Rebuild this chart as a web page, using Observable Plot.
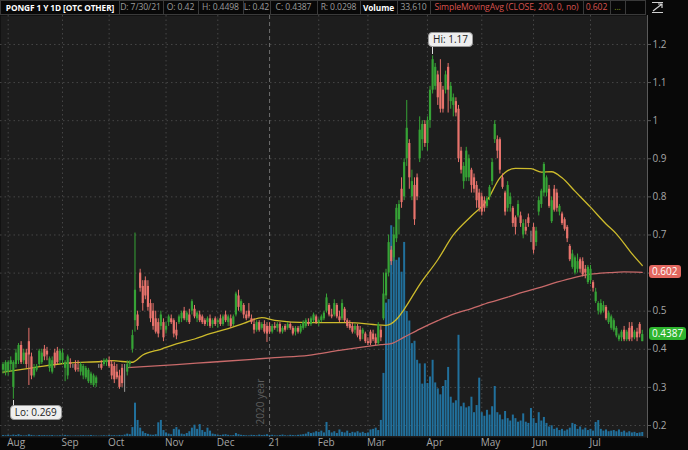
<!DOCTYPE html>
<html><head><meta charset="utf-8">
<script src="https://cdn.jsdelivr.net/npm/d3@7"></script>
<script src="https://cdn.jsdelivr.net/npm/@observablehq/plot@0.6"></script>
<style>
html,body{margin:0;padding:0;background:#080808;width:688px;height:450px;overflow:hidden;font-family:"Open Sans",sans-serif;}
#hdr{position:absolute;left:0;top:0;width:688px;height:15px;background:#080808;}
.cell{position:absolute;top:0;height:13px;border:1px solid #3a3a3a;border-left:none;font-size:8.6px;line-height:13px;color:#9c9c9c;white-space:nowrap;text-align:center;overflow:hidden;box-sizing:content-box;letter-spacing:-0.1px;}
#wrap{position:absolute;left:0;top:15px;width:688px;height:435px;}
#wrap svg{position:absolute;left:0;top:0;}
.badge{position:absolute;height:13px;line-height:13px;font-size:10px;color:#fff;padding:0 3px;border-radius:3px;}
.box{position:absolute;height:13px;line-height:13px;font-size:10px;color:#222;background:#eeeeee;border:1px solid #999;border-radius:4px;padding:0 4px;white-space:nowrap;}
.ptr{position:absolute;width:1px;background:#ddd;}
</style></head><body>
<div id="hdr"></div>
<div id="wrap"></div>
<script>
// ---- data: [open, high, low, close, volume(thousands)] per trading day ----
const jul20=[[0.345,0.365,0.335,0.36,8],[0.34,0.37,0.33,0.365,6]];
const aug20=[[0.34,0.37,0.33,0.365,10],[0.36,0.38,0.34,0.37,6],[0.30,0.37,0.269,0.365,12],[0.36,0.40,0.35,0.39,8],[0.37,0.415,0.36,0.41,15],[0.41,0.42,0.36,0.365,7],[0.37,0.40,0.36,0.39,5],[0.39,0.40,0.35,0.36,6],[0.42,0.455,0.305,0.385,14],[0.38,0.39,0.32,0.33,9],[0.33,0.36,0.325,0.35,5],[0.345,0.36,0.34,0.355,4],[0.36,0.40,0.355,0.395,8],[0.365,0.40,0.36,0.39,6],[0.40,0.41,0.37,0.38,7],[0.395,0.405,0.37,0.385,5],[0.35,0.38,0.34,0.375,6],[0.34,0.38,0.335,0.37,8],[0.39,0.40,0.35,0.36,4],[0.395,0.405,0.36,0.365,5],[0.37,0.40,0.36,0.395,6]];
const sep20=[[0.37,0.40,0.36,0.39,5],[0.35,0.37,0.315,0.365,9],[0.33,0.385,0.32,0.38,6],[0.365,0.375,0.35,0.36,4],[0.355,0.36,0.35,0.355,3],[0.36,0.37,0.34,0.345,5],[0.35,0.37,0.34,0.348,4],[0.34,0.365,0.33,0.36,6],[0.33,0.36,0.32,0.355,7],[0.325,0.355,0.32,0.35,5],[0.315,0.35,0.31,0.345,6],[0.31,0.34,0.305,0.335,8],[0.305,0.335,0.30,0.33,5],[0.31,0.33,0.30,0.325,4],[0.355,0.36,0.35,0.355,3],[0.36,0.37,0.345,0.35,5],[0.36,0.375,0.355,0.37,6],[0.365,0.375,0.355,0.372,4]];
const oct20=[[0.37,0.38,0.35,0.355,8],[0.36,0.37,0.32,0.33,6],[0.355,0.365,0.31,0.32,7],[0.34,0.36,0.32,0.325,5],[0.33,0.345,0.295,0.30,9],[0.35,0.36,0.30,0.31,6],[0.355,0.36,0.287,0.355,12],[0.34,0.37,0.33,0.36,20],[0.36,0.37,0.35,0.365,15],[0.40,0.45,0.39,0.436,75],[0.475,0.705,0.445,0.555,280],[0.49,0.50,0.45,0.46,135],[0.60,0.61,0.55,0.56,70],[0.565,0.58,0.50,0.52,40],[0.58,0.59,0.53,0.54,25],[0.565,0.58,0.50,0.51,18],[0.52,0.53,0.47,0.48,12],[0.50,0.52,0.45,0.46,10],[0.48,0.50,0.44,0.445,15],[0.47,0.48,0.43,0.44,115],[0.46,0.50,0.45,0.49,135],[0.47,0.48,0.42,0.43,50]];
const nov20=[[0.45,0.47,0.44,0.46,30],[0.47,0.49,0.46,0.485,20],[0.48,0.49,0.465,0.47,15],[0.475,0.48,0.43,0.44,60],[0.45,0.47,0.425,0.435,75],[0.47,0.49,0.465,0.485,55],[0.48,0.50,0.47,0.495,20],[0.50,0.51,0.475,0.48,15],[0.475,0.50,0.47,0.495,25],[0.49,0.505,0.465,0.47,40],[0.50,0.53,0.49,0.525,70],[0.505,0.515,0.48,0.485,95],[0.48,0.50,0.47,0.495,60],[0.49,0.50,0.47,0.475,100],[0.485,0.49,0.465,0.47,50],[0.475,0.48,0.46,0.465,35],[0.47,0.485,0.46,0.48,70],[0.48,0.49,0.455,0.46,45],[0.465,0.48,0.455,0.475,20],[0.48,0.485,0.46,0.465,15]];
const dec20=[[0.47,0.48,0.455,0.475,10],[0.48,0.49,0.46,0.465,8],[0.465,0.49,0.46,0.485,12],[0.49,0.50,0.47,0.475,15],[0.47,0.49,0.46,0.485,10],[0.48,0.49,0.455,0.46,6],[0.465,0.49,0.46,0.485,8],[0.49,0.55,0.485,0.545,25],[0.54,0.555,0.50,0.51,15],[0.50,0.53,0.495,0.525,10],[0.515,0.52,0.48,0.49,8],[0.49,0.50,0.475,0.48,6],[0.50,0.52,0.48,0.485,5],[0.48,0.49,0.465,0.47,10],[0.465,0.48,0.44,0.45,8],[0.45,0.475,0.445,0.47,6],[0.47,0.475,0.445,0.45,12],[0.455,0.47,0.45,0.465,8],[0.465,0.475,0.44,0.445,10],[0.46,0.47,0.418,0.44,15]];
const jan21=[[0.46,0.47,0.44,0.445,8],[0.445,0.465,0.44,0.46,10],[0.46,0.47,0.45,0.455,6],[0.455,0.47,0.445,0.465,5],[0.465,0.47,0.44,0.445,8],[0.445,0.46,0.44,0.455,12],[0.46,0.465,0.445,0.45,6],[0.455,0.47,0.45,0.465,5],[0.465,0.47,0.45,0.455,10],[0.455,0.46,0.435,0.44,8],[0.445,0.46,0.435,0.455,6],[0.455,0.46,0.44,0.445,10],[0.445,0.465,0.44,0.46,12],[0.455,0.475,0.45,0.47,15],[0.46,0.48,0.455,0.475,20],[0.47,0.48,0.46,0.465,35],[0.465,0.485,0.46,0.48,25],[0.475,0.495,0.47,0.49,30],[0.485,0.49,0.465,0.47,40]];
const feb21=[[0.47,0.48,0.46,0.475,35],[0.475,0.49,0.47,0.485,45],[0.48,0.50,0.475,0.495,30],[0.50,0.545,0.495,0.535,118],[0.515,0.52,0.485,0.49,50],[0.49,0.505,0.48,0.485,30],[0.49,0.53,0.485,0.52,40],[0.515,0.52,0.48,0.485,25],[0.485,0.50,0.47,0.475,55],[0.48,0.53,0.475,0.52,35],[0.505,0.51,0.47,0.475,30],[0.475,0.48,0.455,0.46,45],[0.465,0.475,0.45,0.455,25],[0.46,0.47,0.44,0.445,35],[0.45,0.465,0.44,0.46,30],[0.46,0.465,0.43,0.435,40],[0.45,0.46,0.42,0.425,28],[0.44,0.455,0.425,0.45,35],[0.44,0.445,0.415,0.42,25]];
const mar21=[[0.42,0.43,0.41,0.415,30],[0.445,0.45,0.41,0.415,55],[0.44,0.45,0.42,0.425,60],[0.43,0.44,0.41,0.415,70],[0.415,0.47,0.41,0.465,50],[0.45,0.46,0.42,0.43,135],[0.48,0.60,0.475,0.545,530],[0.54,0.61,0.53,0.60,1120],[0.60,0.70,0.59,0.68,1150],[0.66,0.67,0.62,0.63,1770],[0.64,0.72,0.63,0.70,1600],[0.69,0.78,0.68,0.77,1480],[0.74,0.79,0.70,0.78,1500],[0.82,0.85,0.77,0.785,1380],[0.80,0.90,0.79,0.89,1630],[0.90,1.053,0.88,0.98,1050],[0.94,0.95,0.82,0.85,970],[0.80,0.87,0.79,0.84,780],[0.83,0.85,0.725,0.74,800],[0.85,0.86,0.79,0.80,640],[0.90,1.01,0.89,0.975,610],[0.95,1.00,0.92,0.99,440],[0.99,1.00,0.93,0.94,610]];
const apr21=[[0.94,1.01,0.92,1.0,445],[1.0,1.09,0.98,1.08,500],[1.08,1.17,1.07,1.16,640],[1.09,1.15,1.08,1.14,450],[1.12,1.13,1.04,1.06,400],[1.10,1.16,1.02,1.03,350],[1.08,1.09,1.02,1.03,420],[1.08,1.13,1.07,1.12,470],[1.14,1.15,1.02,1.08,580],[1.05,1.10,1.03,1.09,330],[1.04,1.07,1.01,1.06,280],[1.05,1.06,1.01,1.02,300],[1.03,1.04,0.89,0.90,850],[0.92,0.93,0.86,0.87,250],[0.84,0.89,0.82,0.88,280],[0.85,0.93,0.84,0.92,240],[0.85,0.91,0.84,0.90,250],[0.87,0.875,0.81,0.83,330],[0.85,0.86,0.81,0.82,200],[0.83,0.84,0.77,0.79,260],[0.81,0.82,0.76,0.77,490]];
const may21=[[0.80,0.81,0.75,0.76,200],[0.79,0.80,0.76,0.77,170],[0.775,0.80,0.77,0.795,220],[0.80,0.83,0.79,0.825,180],[0.84,0.90,0.83,0.89,250],[0.95,1.0,0.94,0.99,420],[0.95,0.96,0.90,0.92,200],[0.95,0.955,0.86,0.87,180],[0.85,0.86,0.82,0.825,140],[0.81,0.815,0.75,0.76,210],[0.77,0.84,0.76,0.83,150],[0.78,0.81,0.76,0.80,130],[0.77,0.775,0.72,0.73,180],[0.745,0.75,0.70,0.72,150],[0.75,0.79,0.745,0.78,120],[0.75,0.76,0.72,0.73,130],[0.70,0.74,0.69,0.73,190],[0.72,0.74,0.70,0.71,120],[0.745,0.755,0.72,0.73,110],[0.70,0.71,0.68,0.70,235]];
const jun21=[[0.72,0.73,0.65,0.66,150],[0.68,0.72,0.67,0.71,110],[0.76,0.80,0.75,0.79,200],[0.78,0.82,0.77,0.815,130],[0.81,0.89,0.80,0.885,160],[0.81,0.855,0.80,0.85,110],[0.82,0.83,0.77,0.775,80],[0.735,0.80,0.73,0.79,90],[0.82,0.83,0.76,0.765,60],[0.81,0.82,0.76,0.77,70],[0.76,0.78,0.75,0.775,50],[0.755,0.76,0.725,0.73,60],[0.74,0.745,0.71,0.715,45],[0.72,0.725,0.68,0.69,55],[0.67,0.675,0.63,0.635,70],[0.615,0.66,0.61,0.65,110],[0.60,0.645,0.595,0.64,100],[0.61,0.65,0.60,0.63,60],[0.635,0.64,0.60,0.61,80],[0.63,0.64,0.59,0.595,55],[0.61,0.62,0.585,0.60,70],[0.575,0.62,0.57,0.615,50]];
const jul21=[[0.58,0.62,0.57,0.61,60],[0.575,0.58,0.55,0.56,45],[0.525,0.56,0.52,0.55,118],[0.50,0.525,0.49,0.52,134],[0.495,0.53,0.49,0.52,60],[0.50,0.525,0.495,0.515,45],[0.51,0.515,0.475,0.48,55],[0.47,0.50,0.465,0.495,40],[0.455,0.49,0.45,0.485,45],[0.45,0.48,0.445,0.475,50],[0.435,0.46,0.43,0.455,40],[0.425,0.44,0.42,0.435,55],[0.43,0.45,0.42,0.445,35],[0.45,0.46,0.42,0.425,45],[0.425,0.45,0.42,0.445,30],[0.455,0.47,0.42,0.425,40],[0.46,0.47,0.42,0.43,30],[0.43,0.45,0.425,0.445,35],[0.445,0.455,0.42,0.43,25],[0.465,0.47,0.43,0.44,30],[0.42,0.4498,0.42,0.4387,33.61]];

// moving averages: [bar index, value]
const smaShort=[[0,0.34],[12,0.352],[25,0.364],[38,0.368],[42,0.37],[50,0.366],[54,0.385],[61,0.40],[67,0.414],[74,0.427],[80,0.441],[87,0.454],[93,0.468],[100,0.483],[105,0.476],[118,0.47],[134,0.47],[143,0.465],[148,0.463],[152,0.478],[155,0.505],[161,0.57],[168,0.635],[174,0.70],[181,0.75],[187,0.79],[192,0.85],[198,0.875],[204,0.874],[208,0.865],[212,0.866],[216,0.85],[221,0.815],[227,0.773],[233,0.729],[237,0.703],[243,0.651],[247,0.62]];
const sma200=[[48,0.352],[67,0.36],[80,0.366],[95,0.373],[105,0.378],[118,0.384],[130,0.397],[138,0.405],[146,0.412],[150,0.415],[155,0.432],[161,0.453],[168,0.475],[174,0.492],[181,0.507],[188,0.523],[195,0.537],[201,0.55],[208,0.563],[214,0.576],[221,0.589],[227,0.597],[234,0.601],[240,0.603],[247,0.602]];

const monthLabels=["Aug","Sep","Oct","Nov","Dec","21","Feb","Mar","Apr","May","Jun","Jul"];
const priceTicks=[0.2,0.3,0.4,0.5,0.6,0.7,0.8,0.9,1.0,1.1,1.2];
const hiddenTickLabels=[0.6]; // covered by the SMA value badge in the reference
const headerCells=[
 ["PONGF 1 Y 1D [OTC OTHER]",118,"#ffffff",true],["D: 7/30/21",45],["O: 0.42",35],["H: 0.4498",45],["L: 0.42",27],["C: 0.4387",47],["R: 0.0298",43],["Volume",37,"#ffffff",true],["33,610",33],["SimpleMovingAvg (CLOSE, 200, 0, no)",153,"#d9534f"],["0.602",27,"#d9534f"],["...",15,"#8a9a1a"],["",20]];
const lastSma200=0.602, lastClose=0.4387;

// ---- build ----
const months=[jul20,aug20,sep20,oct20,nov20,dec20,jan21,feb21,mar21,apr21,may21,jun21,jul21];
const rows=[]; const starts=[];
months.forEach(m=>{starts.push(rows.length); m.forEach(r=>rows.push({i:rows.length,o:r[0],h:r[1],l:r[2],c:r[3],v:r[4]}));});
const monthStarts=starts.slice(1);
const labelOf=new Map(monthStarts.map((s,j)=>[s,monthLabels[j]]));
const janIdx=monthStarts[5];
const sShort=smaShort.map(([i,v])=>({i,v})), sLong=sma200.map(([i,v])=>({i,v}));

const UP="#36a336", DN="#e8736c", FLAT="#9a9a9a";
const col=d=>d.c>d.o?UP:(d.c<d.o?DN:FLAT);

// header
const hdr=document.getElementById("hdr");
let left=0;
headerCells.forEach(([t,w,c,b])=>{const d=document.createElement("div");d.className="cell";d.style.left=left+"px";d.style.width=w+"px";d.textContent=t;if(c)d.style.color=c;if(b){d.style.fontWeight="700";d.style.fontSize="8.3px";}if(left===0)d.style.borderLeft="1px solid #3a3a3a";hdr.appendChild(d);left+=w;});
hdr.insertAdjacentHTML("beforeend",'<svg style="position:absolute;left:651px;top:1px" width="14" height="13"><path d="M1 1.5H12M1 11.5H12M2 10L11 3M7 3H11V7" stroke="#cfcfcf" stroke-width="1.2" fill="none"/></svg>');

const W=688,H=435, MR=41;
const xDomain=[-0.966,249.03];
const common={width:W,height:H,marginLeft:0,marginRight:MR,marginTop:0,
 style:{background:"none",color:"#a6a6a6",fontFamily:"Open Sans, sans-serif",fontSize:"10px",overflow:"visible"}};

// layer 1: background + grid
const g=Plot.plot({...common,marginBottom:13,x:{domain:xDomain,axis:null},y:{domain:[0.1685,1.276],axis:null},
 marks:[
  Plot.frame({fill:"#1d1d1d",stroke:"none"}),
  Plot.gridY(priceTicks,{stroke:"#474747",strokeOpacity:1,strokeDasharray:"1.5,3"}),
  Plot.gridX(monthStarts.filter(s=>s!==janIdx),{stroke:"#474747",strokeOpacity:1,strokeDasharray:"1.5,3"}),
  Plot.ruleX([janIdx],{stroke:"#6e6e6e",strokeDasharray:"4,3"}),
  Plot.text(["2020 year"],{x:()=>janIdx,frameAnchor:"bottom",rotate:-90,textAnchor:"start",dx:-6,dy:-13,fill:"#5e5e5e",fontSize:10})
 ]});
// layer 2: volume
const vol=Plot.plot({...common,marginBottom:14,x:{domain:xDomain,axis:null},y:{domain:[0,3536],axis:null},
 marks:[Plot.ruleX(rows,{x:"i",y1:0,y2:"v",stroke:"#21709c",strokeWidth:2})]});
// layer 3: price
const pr=Plot.plot({...common,marginBottom:13,x:{domain:xDomain},y:{domain:[0.1685,1.276]},
 marks:[
  Plot.line(sLong,{x:"i",y:"v",stroke:"#c86a6a",strokeWidth:1.3,curve:"monotone-x"}),
  Plot.line(sShort,{x:"i",y:"v",stroke:"#cdbb2c",strokeWidth:1.3,curve:"monotone-x"}),
  Plot.ruleX(rows,{x:"i",y1:"l",y2:"h",stroke:col,strokeWidth:1}),
  Plot.ruleX(rows,{x:"i",y1:"o",y2:"c",stroke:col,strokeWidth:2.2}),
  Plot.frame({anchor:"right",stroke:"#5a5a5a"}),
  Plot.axisY(priceTicks,{anchor:"right",tickSize:3,tickPadding:2,stroke:"#5a5a5a",fill:"#a6a6a6",fontSize:10,tickFormat:d=>hiddenTickLabels.includes(d)?"":String(Math.round(d*10)/10),label:null}),
  Plot.axisX(monthStarts,{anchor:"bottom",tickSize:0,tickPadding:1,textAnchor:"start",dx:-1,fill:"#a6a6a6",fontSize:10,tickFormat:d=>labelOf.get(d),label:null})
 ]});
const wrap=document.getElementById("wrap");
[g,vol,pr].forEach(s=>wrap.appendChild(s));

// overlays positioned with the plot's own scales
const xs=pr.scale("x"), ys=pr.scale("y");
function badge(v,txt,bg){const d=document.createElement("div");d.className="badge";d.style.background=bg;d.textContent=txt;d.style.left="649px";d.style.top=(ys.apply(v)-7)+"px";wrap.appendChild(d);}
badge(lastSma200,String(lastSma200),"#e2675f");
badge(lastClose,String(lastClose),"#2fb52f");
const hiRow=rows.reduce((a,b)=>b.h>a.h?b:a), loRow=rows.reduce((a,b)=>b.l<a.l?b:a);
const hx=xs.apply(hiRow.i), hy=ys.apply(hiRow.h);
wrap.insertAdjacentHTML("beforeend",`<div class="ptr" style="left:${hx}px;top:${hy-9}px;height:8px"></div><div class="box" style="left:${hx-4}px;top:${hy-23}px">Hi: ${hiRow.h}</div>`);
const lx=xs.apply(loRow.i), ly=ys.apply(loRow.l);
wrap.insertAdjacentHTML("beforeend",`<div class="ptr" style="left:${lx}px;top:${ly+1}px;height:6px"></div><div class="box" style="left:${lx-3}px;top:${ly+6}px">Lo: ${loRow.l}</div>`);
</script>
</body></html>
